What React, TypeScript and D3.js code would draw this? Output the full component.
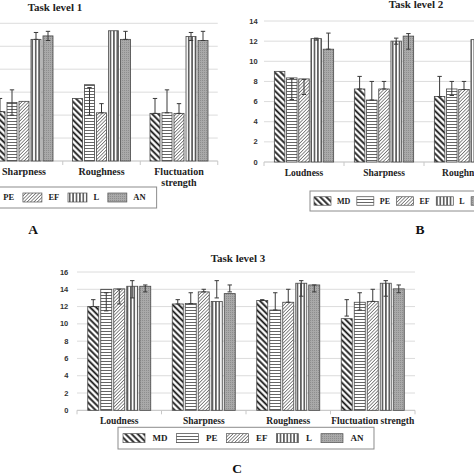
import React from "react";
import * as d3 from "d3";

// Psychoacoustic parameters on the x axis, listener groups as series
const categories = ["Loudness", "Sharpness", "Roughness", "Fluctuation strength"];
const seriesNames = ["MD", "PE", "EF", "L", "AN"];

// Task level 1: mean score per series (rows) and category (columns)
const level1Values: number[][] = [
  [5.9, 4.3, 5.45, 4.15],
  [5.6, 5.1, 6.65, 4.2],
  [5.3, 5.2, 4.2, 4.15],
  [10.9, 10.6, 11.35, 10.85],
  [10.7, 10.9, 10.6, 10.5],
];
const level1ErrLow: (number | null)[][] = [
  [null, 4.3, null, 4.15],
  [null, 4.0, 4.0, 4.2],
  [null, null, 4.2, 4.15],
  [null, 10.6, null, 10.5],
  [null, 10.5, 10.6, 10.5],
];
const level1ErrHigh: (number | null)[][] = [
  [null, 5.45, null, 5.45],
  [null, 6.2, 6.4, 6.2],
  [null, null, 5.0, 5.0],
  [null, 11.2, null, 11.2],
  [null, 11.3, 11.3, 11.3],
];
const level1Ticks = [0, 2, 4, 6, 8, 10, 12];

// Task level 2
const level2Values: number[][] = [
  [9.0, 7.25, 6.5, 7.0],
  [8.35, 6.15, 7.25, 7.5],
  [8.25, 7.25, 7.2, 7.4],
  [12.25, 12.0, 12.15, 12.3],
  [11.2, 12.5, 12.0, 12.2],
];
const level2ErrLow: (number | null)[][] = [
  [null, 7.25, 6.5, null],
  [6.2, 6.15, 6.6, null],
  [6.7, 7.25, 7.2, null],
  [12.1, 11.7, null, null],
  [11.2, 11.2, null, null],
];
const level2ErrHigh: (number | null)[][] = [
  [null, 8.5, 8.5, null],
  [8.3, 8.0, 8.0, null],
  [8.2, 8.0, 8.0, null],
  [12.3, 12.3, null, null],
  [12.8, 12.75, null, null],
];
const level2Ticks = [0, 2, 4, 6, 8, 10, 12, 14];

// Task level 3
const level3Values: number[][] = [
  [12.0, 12.3, 12.7, 10.6],
  [14.0, 12.35, 11.6, 12.5],
  [14.05, 13.7, 12.5, 12.6],
  [14.35, 12.6, 14.7, 14.7],
  [14.35, 13.5, 14.5, 14.05],
];
const level3ErrLow: (number | null)[][] = [
  [12.0, 12.3, 12.7, 10.9],
  [11.5, 12.35, 11.6, 11.6],
  [12.3, 13.7, 12.5, 12.6],
  [13.0, 13.0, 13.2, 13.2],
  [13.7, 13.7, 13.7, 13.6],
];
const level3ErrHigh: (number | null)[][] = [
  [12.8, 12.8, 12.8, 12.8],
  [13.6, 13.6, 13.6, 13.6],
  [14.0, 14.0, 14.0, 14.0],
  [15.0, 15.0, 15.0, 15.0],
  [14.5, 14.5, 14.5, 14.5],
];
const level3Ticks = [0, 2, 4, 6, 8, 10, 12, 14, 16];

const seriesFills = ["url(#fill-md)", "url(#fill-pe)", "url(#fill-ef)", "url(#fill-l)", "url(#fill-an)"];

const SERIF = "'Liberation Serif', 'Times New Roman', serif";
const SANS = "'Liberation Sans', Arial, sans-serif";

// Approximate advance widths (em) of bold Times glyphs used in legend labels
const glyphWidth: Record<string, number> = { M: 0.943, D: 0.722, P: 0.611, E: 0.667, F: 0.611, L: 0.667, A: 0.722, N: 0.722 };
const textWidth = (s: string, size: number) =>
  s.split("").reduce((acc, ch) => acc + (glyphWidth[ch] ?? 0.6), 0) * size;

type LegendLayout = {
  boxY: number; boxH: number; itemsX: number; padL: number; padR: number;
  swW: number; swH: number; gap1: number; gap2: number; font: number;
};

function Legend({ l }: { l: LegendLayout }) {
  let cursor = l.itemsX;
  const items = seriesNames.map((name, i) => {
    const x = cursor;
    const tw = textWidth(name, l.font);
    cursor += l.swW + l.gap1 + tw + l.gap2;
    return { name, i, x, tw };
  });
  const last = items[items.length - 1];
  const boxRight = last.x + l.swW + l.gap1 + last.tw + l.padR;
  const boxLeft = l.itemsX - l.padL;
  const cy = l.boxY + l.boxH / 2;
  return (
    <g>
      <rect x={boxLeft} y={l.boxY} width={boxRight - boxLeft} height={l.boxH} fill="#fff" stroke="#8c8c8c" strokeWidth={1} />
      {items.map((it) => (
        <g key={it.name}>
          <rect x={it.x} y={cy - l.swH / 2} width={l.swW} height={l.swH} fill={seriesFills[it.i]} stroke="#555" strokeWidth={0.7} />
          <text x={it.x + l.swW + l.gap1} y={cy} dy="0.35em" fontFamily={SERIF} fontWeight="bold" fontSize={l.font} fill="#222">
            {it.name}
          </text>
        </g>
      ))}
    </g>
  );
}

type PanelLayout = {
  letter: string; title: string;
  values: number[][]; errLow: (number | null)[][]; errHigh: (number | null)[][]; ticks: number[];
  left: number; right: number; top: number; bottom: number;
  barW: number; barGap: number;
  titleX: number; titleY: number; titleSize: number;
  catY: number; catSize: number; wrapLabels: boolean;
  tickGap: number;
  letterX: number; letterY: number;
  legend: LegendLayout;
};

function BarPanel({ p }: { p: PanelLayout }) {
  const x0 = d3.scaleBand<string>().domain(categories).range([p.left, p.right]).paddingInner(0).paddingOuter(0);
  const bw = x0.bandwidth();
  const cluster = 5 * p.barW + 4 * p.barGap;
  const x1 = d3
    .scaleBand<string>()
    .domain(seriesNames)
    .range([(bw - cluster) / 2, (bw + cluster) / 2])
    .paddingInner(p.barGap / (p.barW + p.barGap))
    .paddingOuter(0);
  const yMax = p.ticks[p.ticks.length - 1];
  const y = d3.scaleLinear().domain([0, yMax]).range([p.bottom, p.top]);
  const capHalf = 2.2;

  return (
    <g>
      {/* horizontal gridlines */}
      {p.ticks.map((t) => (
        <line key={t} x1={p.left} x2={p.right} y1={y(t)} y2={y(t)} stroke={t === 0 ? "#bdbdbd" : "#dcdcdc"} strokeWidth={1} />
      ))}
      {/* category separators on the baseline */}
      {d3.range(categories.length + 1).map((i) => {
        const xv = p.left + i * bw;
        return <line key={i} x1={xv} x2={xv} y1={y(0)} y2={y(0) + 4} stroke="#c8c8c8" strokeWidth={1} />;
      })}
      {/* y tick labels */}
      {p.ticks.map((t) => (
        <text key={t} x={p.left - p.tickGap} y={y(t)} dy="0.35em" textAnchor="end" fontFamily={SANS} fontWeight="bold" fontSize={7.5} fill="#333">
          {t}
        </text>
      ))}
      {/* bars */}
      {seriesNames.map((s, si) =>
        categories.map((c, ci) => {
          const v = p.values[si][ci];
          const bx = (x0(c) ?? 0) + (x1(s) ?? 0);
          return (
            <rect key={s + c} x={bx} y={y(v)} width={x1.bandwidth()} height={y(0) - y(v)} fill={seriesFills[si]} stroke="#474747" strokeWidth={0.8} />
          );
        })
      )}
      {/* error bars */}
      {seriesNames.map((s, si) =>
        categories.map((c, ci) => {
          const lo = p.errLow[si][ci];
          const hi = p.errHigh[si][ci];
          if (lo == null || hi == null) return null;
          const cx = (x0(c) ?? 0) + (x1(s) ?? 0) + x1.bandwidth() / 2;
          return (
            <g key={"e" + s + c} stroke="#3a3a3a" strokeWidth={1}>
              <line x1={cx} x2={cx} y1={y(lo)} y2={y(hi)} />
              <line x1={cx - capHalf} x2={cx + capHalf} y1={y(hi)} y2={y(hi)} />
              <line x1={cx - capHalf} x2={cx + capHalf} y1={y(lo)} y2={y(lo)} />
            </g>
          );
        })
      )}
      {/* category labels */}
      {categories.map((c) => {
        const cx = (x0(c) ?? 0) + bw / 2;
        const lines = p.wrapLabels && c.includes(" ") ? c.split(" ") : [c];
        return (
          <text key={c} x={cx} y={p.catY} textAnchor="middle" fontFamily={SERIF} fontWeight="bold" fontSize={p.catSize} fill="#222">
            {lines.map((ln, k) => (
              <tspan key={k} x={cx} dy={k === 0 ? 0 : p.catSize * 1.02}>
                {ln}
              </tspan>
            ))}
          </text>
        );
      })}
      {/* title */}
      <text x={p.titleX} y={p.titleY} textAnchor="middle" fontFamily={SERIF} fontWeight="bold" fontSize={p.titleSize} fill="#222">
        {p.title}
      </text>
      <Legend l={p.legend} />
      <text x={p.letterX} y={p.letterY} textAnchor="middle" fontFamily={SERIF} fontWeight="bold" fontSize={13.5} fill="#111">
        {p.letter}
      </text>
    </g>
  );
}

const panels: PanelLayout[] = [
  {
    letter: "A", title: "Task level 1",
    values: level1Values, errLow: level1ErrLow, errHigh: level1ErrHigh, ticks: level1Ticks,
    left: -92.25, right: 217.75, top: 23.3, bottom: 161,
    barW: 10, barGap: 2,
    titleX: 55, titleY: 10.5, titleSize: 11,
    catY: 175.3, catSize: 10, wrapLabels: true, tickGap: 7,
    letterX: 33, letterY: 233.5,
    legend: { boxY: 187, boxH: 21, itemsX: -70.5, padL: 4, padR: 11, swW: 19, swH: 9, gap1: 6.5, gap2: 8.7, font: 8.5 },
  },
  {
    letter: "B", title: "Task level 2",
    values: level2Values, errLow: level2ErrLow, errHigh: level2ErrHigh, ticks: level2Ticks,
    left: 264, right: 584, top: 21, bottom: 162,
    barW: 10.5, barGap: 1.7,
    titleX: 416, titleY: 7.5, titleSize: 11,
    catY: 175.5, catSize: 9.5, wrapLabels: false, tickGap: 6.3,
    letterX: 420, letterY: 233.5,
    legend: { boxY: 191, boxH: 20, itemsX: 314, padL: 4, padR: 8, swW: 17, swH: 8.5, gap1: 6, gap2: 6.5, font: 8 },
  },
  {
    letter: "C", title: "Task level 3",
    values: level3Values, errLow: level3ErrLow, errHigh: level3ErrHigh, ticks: level3Ticks,
    left: 77, right: 415, top: 272, bottom: 410.3,
    barW: 11, barGap: 2,
    titleX: 238, titleY: 262, titleSize: 11,
    catY: 424.3, catSize: 9.5, wrapLabels: false, tickGap: 8.7,
    letterX: 237, letterY: 472.5,
    legend: { boxY: 427.3, boxH: 21.7, itemsX: 123, padL: 5, padR: 10.5, swW: 22, swH: 9, gap1: 7.5, gap2: 9, font: 9 },
  },
];

function Patterns() {
  return (
    <defs>
      <pattern id="fill-md" patternUnits="userSpaceOnUse" width={4.3} height={4.3} patternTransform="rotate(-45)">
        <rect width={4.3} height={4.3} fill="#fff" />
        <line x1={1.2} x2={1.2} y1={0} y2={4.3} stroke="#151515" strokeWidth={1.8} />
      </pattern>
      <pattern id="fill-pe" patternUnits="userSpaceOnUse" width={4} height={3}>
        <rect width={4} height={3} fill="#fff" />
        <line x1={0} x2={4} y1={1.5} y2={1.5} stroke="#555" strokeWidth={0.9} />
      </pattern>
      <pattern id="fill-ef" patternUnits="userSpaceOnUse" width={2.4} height={2.4} patternTransform="rotate(45)">
        <rect width={2.4} height={2.4} fill="#fff" />
        <line x1={1.2} x2={1.2} y1={0} y2={2.4} stroke="#666" strokeWidth={0.75} />
      </pattern>
      <pattern id="fill-l" patternUnits="userSpaceOnUse" width={3.4} height={4}>
        <rect width={3.4} height={4} fill="#fff" />
        <line x1={1.7} x2={1.7} y1={0} y2={4} stroke="#1e1e1e" strokeWidth={1.2} />
      </pattern>
      <pattern id="fill-an" patternUnits="userSpaceOnUse" width={2} height={2}>
        <rect width={2} height={2} fill="#a9a9a9" />
        <rect x={0} y={0} width={1} height={1} fill="#8e8e8e" />
      </pattern>
    </defs>
  );
}

export default function App() {
  return (
    <svg
      width={474}
      height={474}
      viewBox="0 0 474 474"
      style={{ position: "absolute", left: 0, top: 0, background: "#fff" }}
    >
      <Patterns />
      {panels.map((p) => (
        <BarPanel key={p.letter} p={p} />
      ))}
    </svg>
  );
}
